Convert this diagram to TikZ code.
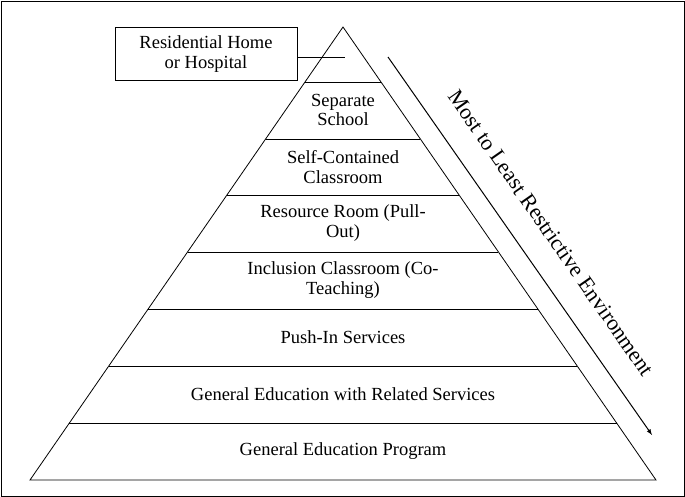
\documentclass[tikz,border=0pt]{standalone}
\usepackage{fontspec}
\setmainfont{Liberation Serif}
\begin{document}
\begin{tikzpicture}[x=1pt,y=-1pt,line width=0.8pt,
  lab/.style={align=center,font=\fontsize{18.5}{19.5}\selectfont}]
\useasboundingbox (0,0) rectangle (685,497);
\draw[line width=0.6pt] (1,1) rectangle (684,496);
\coordinate (apex) at (343,27);
\coordinate (bl) at (30,480);
\coordinate (br) at (656,480);
\draw (apex) -- (bl) -- (br) -- cycle;
\foreach \y in {82,139,195,252,309,366,423}{
  \pgfmathsetmacro{\dx}{(\y-27)*0.691}
  \draw ({343-\dx},\y) -- ({343+\dx},\y);
}
\node[lab] (l1) at (343,110) {Separate\\School};
\node[lab] (l2) at (343,167) {Self-Contained\\Classroom};
\node[lab] (l3) at (343,223) {Resource Room (Pull-\\Out)};
\node[lab] (l4) at (343,280) {Inclusion Classroom (Co-\\Teaching)};
\node[lab] (l5) at (343,337) {Push-In Services};
\node[lab] (l6) at (343,394) {General Education with Related Services};
\node[lab] (l7) at (343,451) {General Education Program};
\node[lab,draw,line width=0.6pt,minimum width=182pt,minimum height=53pt] (res) at (206,54) {Residential Home\\or Hospital};
\coordinate (rp) at (345,57);
\draw[line width=0.6pt] (res.east |- rp) -- (rp);
\coordinate (a1) at (388,57);
\coordinate (a2) at (652,435);
\draw[-latex,line width=1pt] (a1) -- (a2);
\node[rotate=-55.1,font=\fontsize{22}{24}\selectfont] (arr) at (551,233) {Most to Least Restrictive Environment};
\end{tikzpicture}
\end{document}
